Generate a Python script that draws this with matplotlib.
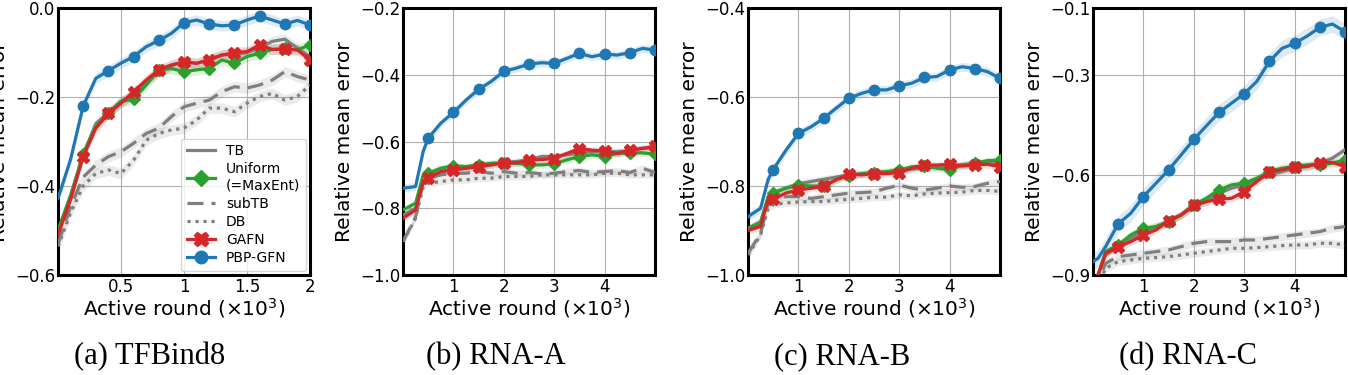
import numpy as np
import matplotlib.pyplot as plt

# ---- data (x in units of 10^3 active rounds) ----
x_a = [0.0, 0.1, 0.2, 0.3, 0.4, 0.5, 0.6, 0.7, 0.8, 0.9, 1.0,
       1.1, 1.2, 1.3, 1.4, 1.5, 1.6, 1.7, 1.8, 1.9, 2.0]
x_bc = [0.0, 0.25, 0.4, 0.5, 0.75, 1.0, 1.25, 1.5, 1.75, 2.0, 2.25,
        2.5, 2.75, 3.0, 3.25, 3.5, 3.75, 4.0, 4.25, 4.5, 4.75, 5.0]
x_d = [0.0, 0.1, 0.25, 0.5, 0.75, 1.0, 1.25, 1.5, 1.75, 2.0, 2.25,
       2.5, 2.75, 3.0, 3.25, 3.5, 3.75, 4.0, 4.25, 4.5, 4.75, 5.0]

# (a) TFBind8
tb_a = [-0.50, -0.42, -0.33, -0.26, -0.235, -0.21, -0.195, -0.165, -0.145, -0.13, -0.12,
        -0.125, -0.115, -0.105, -0.105, -0.10, -0.09, -0.075, -0.07, -0.09, -0.11]
uni_a = [-0.50, -0.424, -0.327, -0.267, -0.237, -0.21, -0.205, -0.173, -0.139, -0.136, -0.143,
         -0.139, -0.136, -0.117, -0.124, -0.109, -0.102, -0.093, -0.091, -0.094, -0.083]
sub_a = [-0.53, -0.446, -0.38, -0.353, -0.334, -0.323, -0.304, -0.282, -0.27, -0.244, -0.222,
         -0.214, -0.207, -0.188, -0.177, -0.18, -0.173, -0.162, -0.143, -0.154, -0.162]
db_a = [-0.536, -0.46, -0.40, -0.372, -0.364, -0.372, -0.342, -0.297, -0.282, -0.274, -0.27,
        -0.252, -0.225, -0.225, -0.233, -0.214, -0.199, -0.192, -0.207, -0.199, -0.173]
gafn_a = [-0.51, -0.43, -0.334, -0.27, -0.237, -0.214, -0.188, -0.162, -0.139, -0.128, -0.121,
          -0.124, -0.117, -0.106, -0.100, -0.098, -0.083, -0.093, -0.093, -0.094, -0.117]
pbp_a = [-0.428, -0.34, -0.22, -0.158, -0.141, -0.124, -0.109, -0.087, -0.073, -0.057, -0.033,
         -0.027, -0.036, -0.040, -0.038, -0.027, -0.018, -0.027, -0.036, -0.028, -0.038]

# (b) RNA-A
tb_b = [-0.82, -0.80, -0.72, -0.705, -0.69, -0.685, -0.68, -0.675, -0.67, -0.662, -0.66,
        -0.655, -0.645, -0.645, -0.64, -0.635, -0.63, -0.632, -0.63, -0.628, -0.62, -0.62]
uni_b = [-0.805, -0.785, -0.70, -0.695, -0.68, -0.673, -0.675, -0.67, -0.665, -0.664, -0.665,
         -0.67, -0.67, -0.667, -0.655, -0.645, -0.64, -0.645, -0.636, -0.634, -0.634, -0.638]
sub_b = [-0.90, -0.825, -0.725, -0.71, -0.70, -0.695, -0.695, -0.69, -0.695, -0.69, -0.695,
         -0.693, -0.697, -0.695, -0.69, -0.687, -0.693, -0.69, -0.687, -0.693, -0.68, -0.693]
db_b = [-0.90, -0.83, -0.735, -0.725, -0.72, -0.715, -0.715, -0.71, -0.71, -0.705, -0.705,
        -0.705, -0.70, -0.70, -0.70, -0.70, -0.70, -0.695, -0.695, -0.70, -0.70, -0.70]
gafn_b = [-0.83, -0.805, -0.72, -0.71, -0.69, -0.685, -0.68, -0.675, -0.67, -0.664, -0.664,
          -0.656, -0.654, -0.651, -0.636, -0.621, -0.626, -0.628, -0.636, -0.626, -0.621, -0.614]
pbp_b = [-0.74, -0.735, -0.63, -0.59, -0.545, -0.513, -0.476, -0.444, -0.42, -0.39, -0.38,
         -0.368, -0.364, -0.366, -0.351, -0.336, -0.346, -0.338, -0.341, -0.334, -0.321, -0.326]

# (c) RNA-B
tb_c = [-0.895, -0.88, -0.825, -0.815, -0.805, -0.795, -0.79, -0.785, -0.78, -0.775, -0.772,
        -0.77, -0.768, -0.765, -0.762, -0.76, -0.757, -0.755, -0.752, -0.75, -0.748, -0.75]
uni_c = [-0.895, -0.884, -0.824, -0.816, -0.805, -0.798, -0.80, -0.80, -0.786, -0.777, -0.773,
         -0.77, -0.768, -0.764, -0.757, -0.755, -0.76, -0.764, -0.753, -0.749, -0.743, -0.742]
sub_c = [-0.951, -0.906, -0.839, -0.831, -0.824, -0.824, -0.828, -0.824, -0.82, -0.816, -0.815,
         -0.813, -0.805, -0.798, -0.805, -0.809, -0.805, -0.80, -0.803, -0.801, -0.794, -0.79]
db_c = [-0.955, -0.91, -0.85, -0.842, -0.838, -0.836, -0.835, -0.835, -0.832, -0.83, -0.828,
        -0.825, -0.825, -0.82, -0.822, -0.818, -0.816, -0.815, -0.814, -0.81, -0.81, -0.812]
gafn_c = [-0.90, -0.891, -0.83, -0.83, -0.816, -0.809, -0.805, -0.801, -0.786, -0.773, -0.775,
          -0.772, -0.772, -0.77, -0.76, -0.753, -0.753, -0.751, -0.755, -0.753, -0.751, -0.757]
pbp_c = [-0.869, -0.85, -0.785, -0.763, -0.72, -0.682, -0.667, -0.648, -0.625, -0.603, -0.592,
         -0.584, -0.584, -0.575, -0.569, -0.556, -0.554, -0.539, -0.532, -0.536, -0.543, -0.558]

# (d) RNA-C
tb_d = [-0.93, -0.90, -0.84, -0.815, -0.79, -0.77, -0.755, -0.74, -0.72, -0.695, -0.68,
        -0.655, -0.64, -0.63, -0.615, -0.60, -0.59, -0.58, -0.575, -0.565, -0.55, -0.525]
uni_d = [-0.93, -0.90, -0.83, -0.81, -0.78, -0.76, -0.755, -0.74, -0.72, -0.69, -0.67,
         -0.645, -0.63, -0.625, -0.61, -0.59, -0.58, -0.575, -0.57, -0.57, -0.565, -0.555]
sub_d = [-0.95, -0.92, -0.865, -0.845, -0.84, -0.835, -0.83, -0.825, -0.815, -0.805, -0.80,
         -0.80, -0.80, -0.795, -0.795, -0.79, -0.785, -0.78, -0.775, -0.77, -0.76, -0.755]
db_d = [-0.96, -0.93, -0.88, -0.86, -0.855, -0.85, -0.848, -0.845, -0.84, -0.835, -0.83,
        -0.825, -0.82, -0.82, -0.818, -0.815, -0.812, -0.81, -0.81, -0.805, -0.805, -0.81]
gafn_d = [-0.93, -0.90, -0.835, -0.815, -0.80, -0.78, -0.765, -0.737, -0.72, -0.69, -0.68,
          -0.673, -0.67, -0.65, -0.62, -0.59, -0.585, -0.575, -0.575, -0.563, -0.563, -0.575]
pbp_d = [-0.86, -0.85, -0.815, -0.747, -0.715, -0.665, -0.625, -0.585, -0.54, -0.494, -0.453,
         -0.413, -0.385, -0.357, -0.32, -0.26, -0.221, -0.206, -0.184, -0.158, -0.148, -0.171]

titles = ['(a) TFBind8', '(b) RNA-A', '(c) RNA-B', '(d) RNA-C']
xs = [x_a, x_bc, x_bc, x_d]
series = [
    [tb_a, uni_a, sub_a, db_a, gafn_a, pbp_a],
    [tb_b, uni_b, sub_b, db_b, gafn_b, pbp_b],
    [tb_c, uni_c, sub_c, db_c, gafn_c, pbp_c],
    [tb_d, uni_d, sub_d, db_d, gafn_d, pbp_d],
]
labels = ['TB', 'Uniform\n(=MaxEnt)', 'subTB', 'DB', 'GAFN', 'PBP-GFN']
band = [0.012, 0.01, 0.008, 0.012]
blue_band = [0.012, 0.012, 0.01, 0.025]

xlims = [(0, 2), (0, 5), (0, 5), (0, 5)]
ylims = [(-0.6, 0.0), (-1.0, -0.2), (-1.0, -0.4), (-0.9, -0.1)]
xticks = [[0.5, 1, 1.5, 2], [1, 2, 3, 4], [1, 2, 3, 4], [1, 2, 3, 4]]
xticklabels = [['0.5', '1', '1.5', '2'], ['1', '2', '3', '4'],
               ['1', '2', '3', '4'], ['1', '2', '3', '4']]
yticks = [[-0.6, -0.4, -0.2, 0.0], [-1.0, -0.8, -0.6, -0.4, -0.2],
          [-1.0, -0.8, -0.6, -0.4], [-0.9, -0.6, -0.3, -0.1]]
marks = [(2, 2), (3, 2), (3, 2), (3, 2)]

gray = '#7f7f7f'
styles = [
    dict(color=gray, ls='-', marker=None),
    dict(color='#2ca02c', ls='-', marker='D', ms=6.5),
    dict(color=gray, ls=(0, (5, 2.5)), marker=None),
    dict(color=gray, ls=(0, (1, 1.5)), marker=None),
    dict(color='#d62728', ls='-', marker='X', ms=8.5),
    dict(color='#1f77b4', ls='-', marker='o', ms=7.5),
]

W, H = 1348, 375
fig = plt.figure(figsize=(W / 100, H / 100), dpi=100)
lefts = [58, 403, 748, 1093]
caption_x = [150, 496, 842, 1188]

for k in range(4):
    ax = fig.add_axes([lefts[k] / W, 100 / H, 252 / W, 267 / H])
    x = np.array(xs[k])
    for i, y in enumerate(series[k]):
        y = np.array(y)
        st = styles[i]
        b = blue_band[k] if i == 5 else band[k]
        ax.fill_between(x, y - b, y + b, color=st['color'], alpha=0.15, lw=0)
        ax.plot(x, y, color=st['color'], ls=st['ls'], lw=2.3,
                marker=st['marker'], ms=st.get('ms', 0), markevery=marks[k],
                label=labels[i], zorder=3 + i)
    ax.set_xlim(*xlims[k])
    ax.set_ylim(*ylims[k])
    ax.set_xticks(xticks[k])
    ax.set_xticklabels(xticklabels[k])
    ax.set_yticks(yticks[k])
    ax.tick_params(length=0, pad=2, labelsize=12)
    ax.grid(True, color='#b0b0b0', lw=0.8)
    ax.set_axisbelow(True)
    for s in ax.spines.values():
        s.set_linewidth(2.2)
    ax.set_xlabel('Active round (×10$^3$)', fontsize=14.5, labelpad=0)
    ax.set_ylabel('Relative mean error', fontsize=14.5, labelpad=4)
    if k == 0:
        ax.legend(loc='lower right', fontsize=10, labelspacing=0.3,
                  borderaxespad=0.3, handlelength=2.0, markerscale=1.2)
    fig.text(caption_x[k] / W, 1 - 357 / H, titles[k], ha='center', va='center',
             fontsize=22, family='Liberation Serif')

fig.savefig('out.png', dpi=100)
